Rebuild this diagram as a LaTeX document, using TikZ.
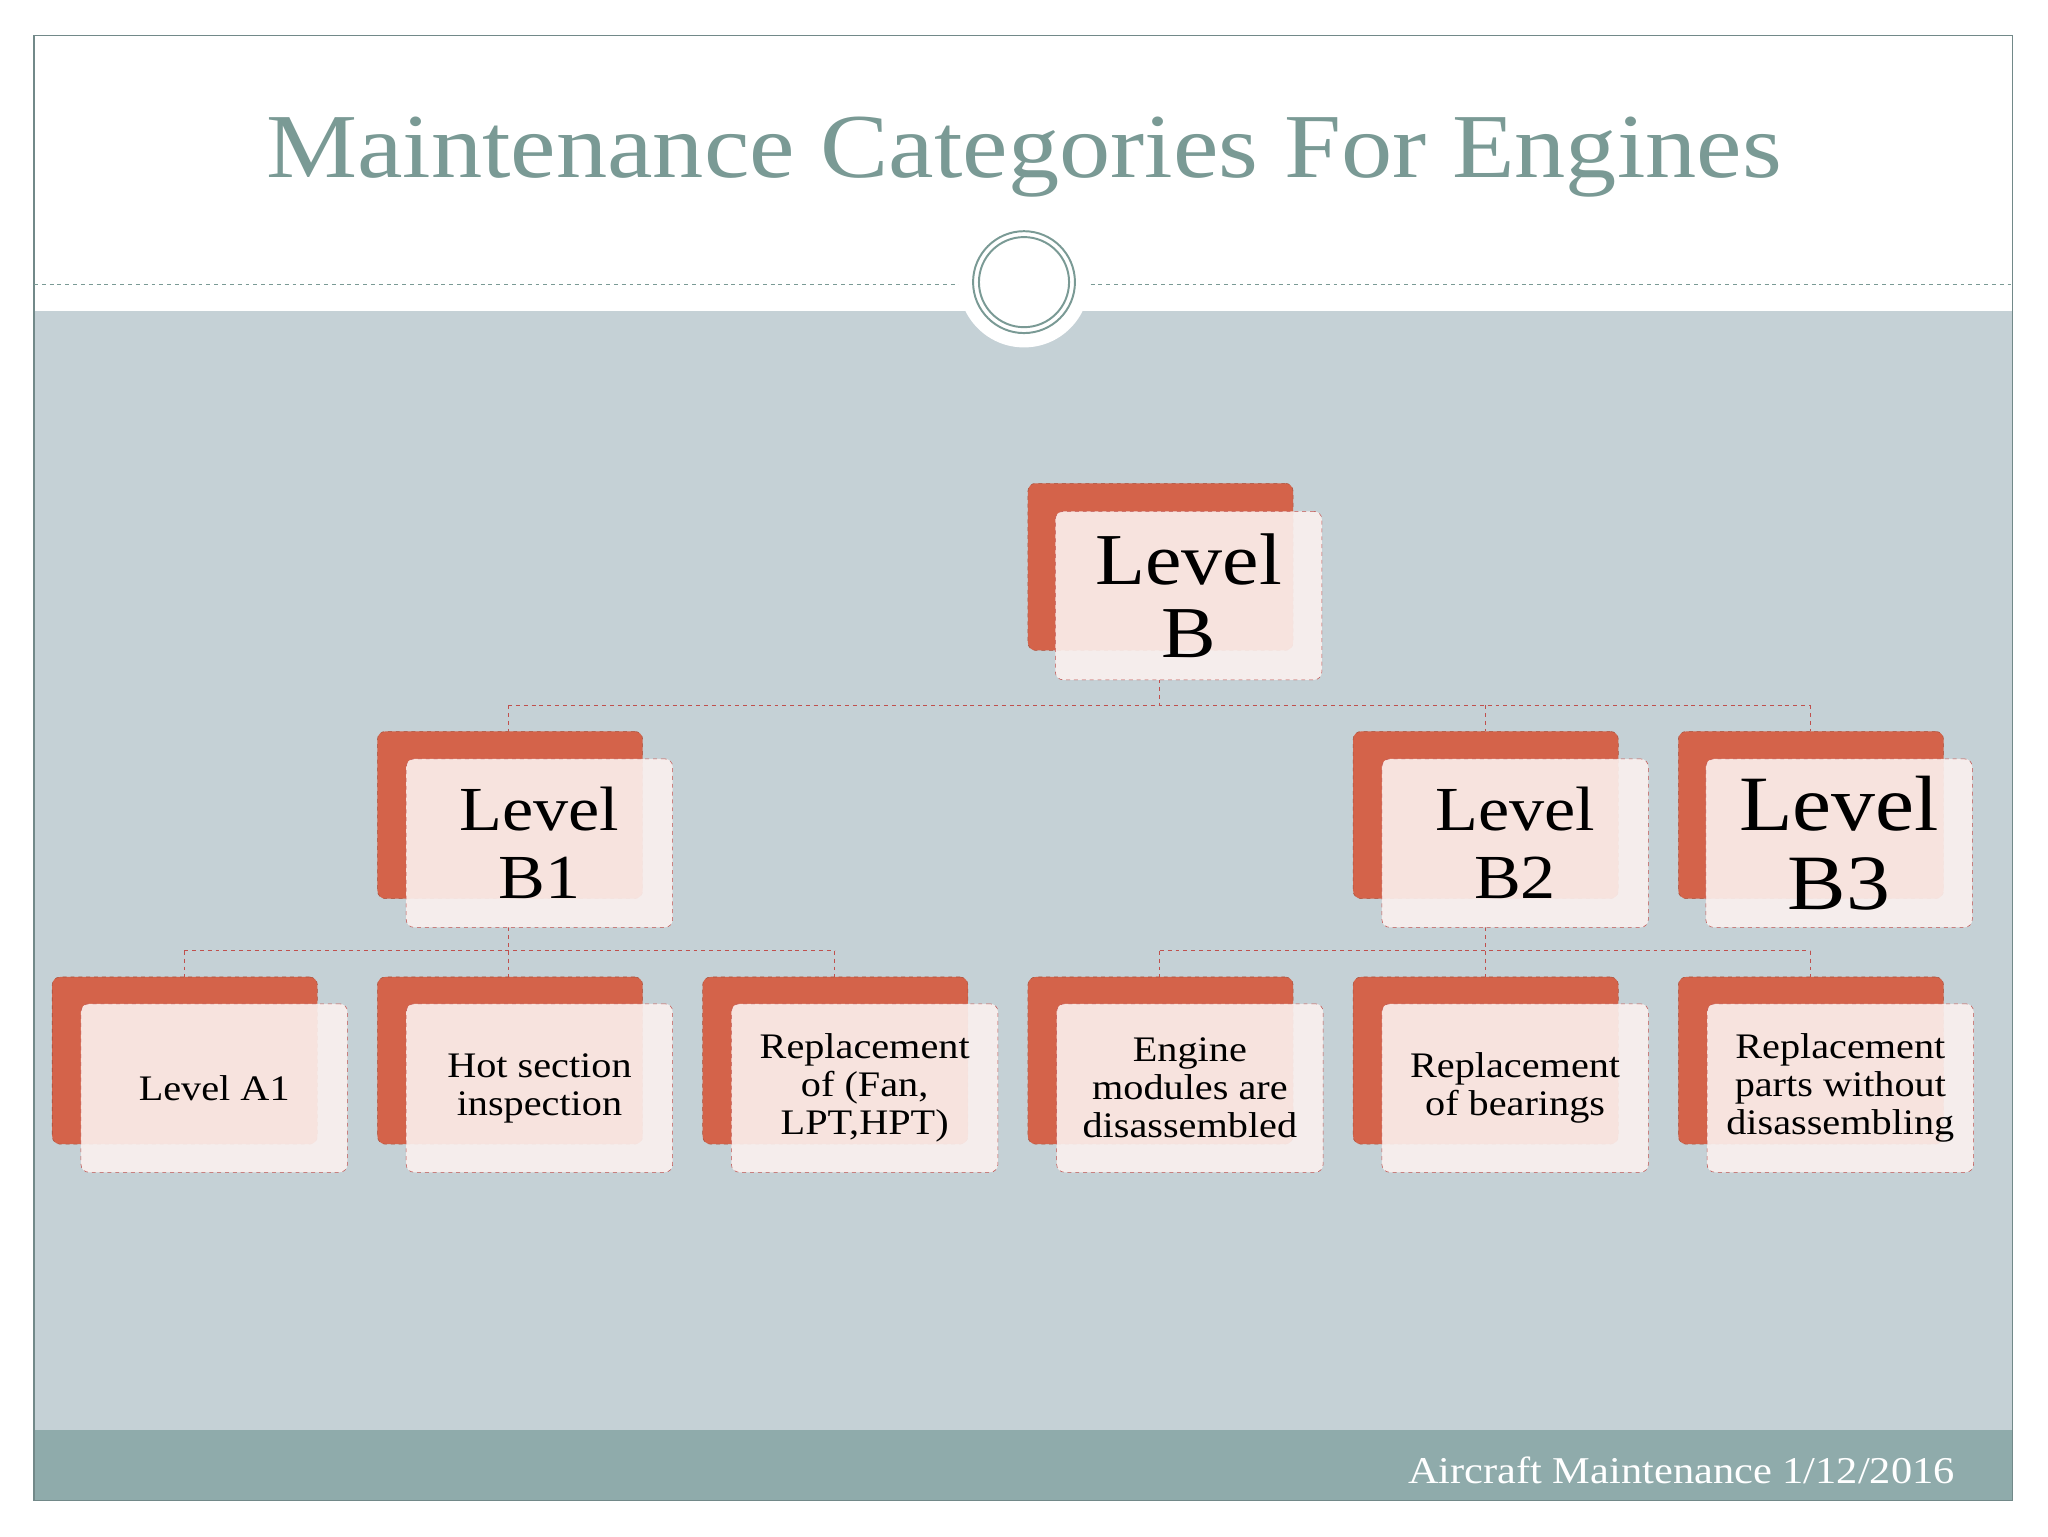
\documentclass[tikz,border=0pt]{standalone}
\usepackage{fontspec}
\setmainfont{Liberation Serif}[FakeStretch=1.12]
\usetikzlibrary{positioning}
\definecolor{bgblue}{HTML}{C5D1D6}
\definecolor{foot}{HTML}{8FABAB}
\definecolor{ttl}{HTML}{7A9A95}
\definecolor{org}{HTML}{D4634A}
\definecolor{pink}{HTML}{FBF1EF}
\definecolor{dash}{HTML}{C0504D}
\tikzset{
 backbox/.style={draw=org!80!black, dashed, fill=org, rounded corners=6pt, minimum width=203pt, minimum height=128pt, inner sep=0pt},
 frontbox/.style={draw=dash, dashed, fill=pink, fill opacity=0.9, text opacity=1, rounded corners=6pt, minimum width=204pt, minimum height=129pt, inner sep=0pt, align=center, text=black},
 conn/.style={draw=dash, dashed, line width=0.8pt},
 big/.style={font=\fontsize{56}{56}\selectfont},
 mid/.style={font=\fontsize{48}{52}\selectfont},
 bigg/.style={font=\fontsize{60}{60}\selectfont},
 small/.style={font=\fontsize{27.5}{29}\selectfont},
}
\begin{document}
\begin{tikzpicture}[x=1pt,y=-1pt]
\useasboundingbox (0,0) rectangle (1568,1176);
\fill[white] (0,0) rectangle (1568,1176);
\fill[bgblue] (26,238) rectangle (1541,1095);
\fill[foot] (26,1095) rectangle (1541,1149);
\draw[foot!80!black, line width=1pt] (26,27) rectangle (1541,1149);
\draw[ttl, dashed, line width=0.6pt] (26,218) -- (735,218);
\draw[ttl, dashed, line width=0.6pt] (835,218) -- (1541,218);
\fill[white] (784,216) circle (50);
\draw[ttl, line width=1.5pt] (784,216) circle (39);
\draw[ttl, line width=1.5pt] (784,216) circle (34.5);
\node[text=ttl, font=\fontsize{70}{70}\selectfont] (title) at (784,120) {Maintenance Categories For Engines};
\node[text=white, font=\fontsize{29}{29}\selectfont, anchor=east] (footer) at (1500,1126) {Aircraft Maintenance 1/12/2016};

\coordinate (cB) at (888,520);
\coordinate (j1) at (888,540);
\coordinate (h1) at (389,540);
\coordinate (h2) at (1137,540);
\coordinate (h3) at (1386,540);
\draw[conn] (cB) -- (j1) (h1) -- (h3) (h1) -- (389,560) (h2) -- (1137,560) (h3) -- (1386,560);
\coordinate (h4) at (141,728);
\coordinate (h5) at (639,728);
\draw[conn] (389,710) -- (389,748) (h4) -- (h5) (h4) -- (141,748) (h5) -- (639,748);
\coordinate (h6) at (888,728);
\coordinate (h7) at (1386,728);
\draw[conn] (1137,710) -- (1137,748) (h6) -- (h7) (h6) -- (888,748) (h7) -- (1386,748);

\node[backbox] (bB) at (888.5,434) {};
\node[frontbox, big] (fB) at (910,456) {Level\\B};
\node[backbox] (bB1) at (390.5,624) {};
\node[frontbox, mid] (fB1) at (413,645.5) {Level\\B1};
\node[backbox] (bB2) at (1137.5,624) {};
\node[frontbox, mid] (fB2) at (1160,645.5) {Level\\B2};
\node[backbox] (bB3) at (1386.5,624) {};
\node[frontbox, bigg] (fB3) at (1408,645.5) {Level\\B3};
\foreach \n/\x/\t in {a/40/{Level A1}, b/289/{Hot section\\inspection}, c/538/{Replacement\\of (Fan,\\LPT,HPT)}, d/787/{Engine\\modules are\\disassembled}, e/1036/{Replacement\\of bearings}, f/1285/{Replacement\\parts without\\disassembling}}{
 \node[backbox] (b\n) at (\x+101.5,812) {};
 \node[frontbox, small] (f\n) at (\x+124,833) {\t};
}
\end{tikzpicture}
\end{document}
